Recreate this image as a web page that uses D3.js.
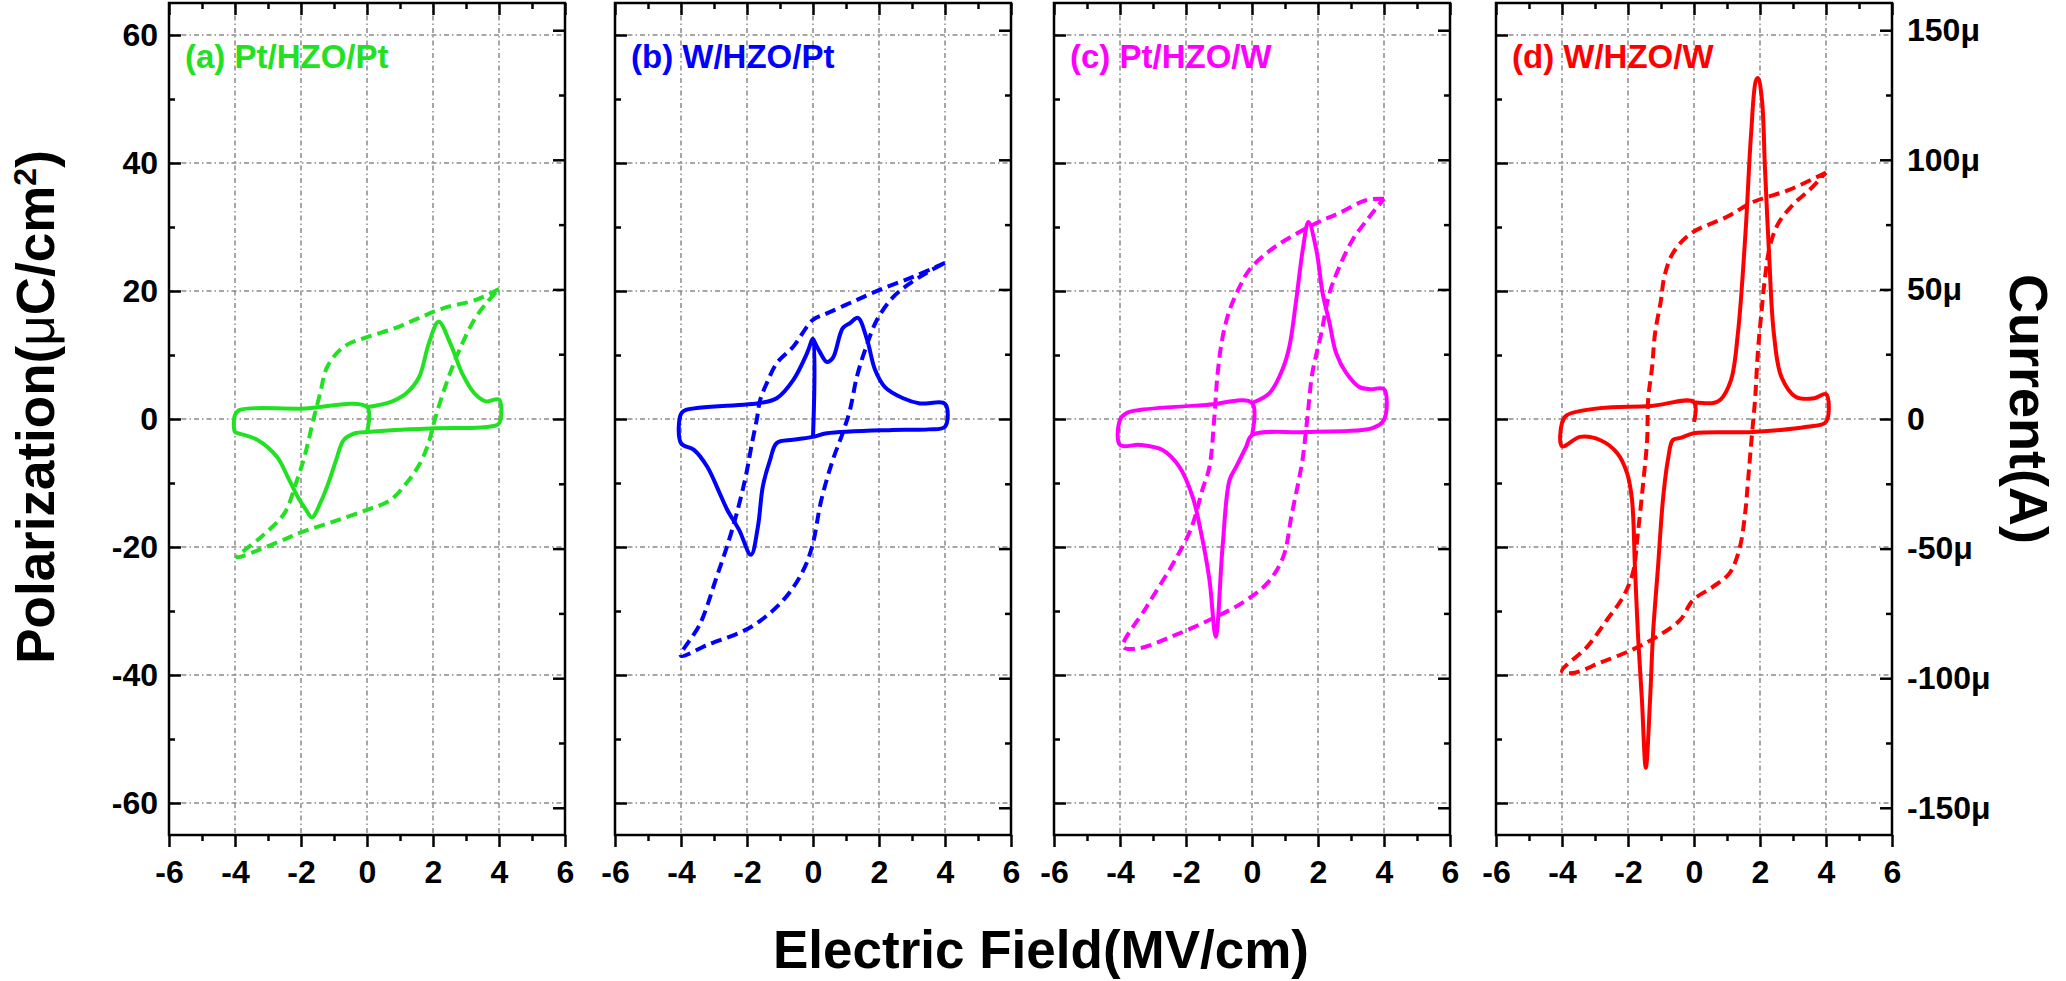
<!DOCTYPE html>
<html>
<head>
<meta charset="utf-8">
<script src="https://cdn.jsdelivr.net/npm/d3@7"></script>
<style>
  html, body { margin: 0; padding: 0; background: #fff; }
  svg { display: block; }
  text { font-family: "Liberation Sans", Arial, sans-serif; font-weight: bold; fill: #000; }
  .tick text { font-size: 32px; }
</style>
</head>
<body>
<div id="chart"></div>
<script>
// ---- values ----
const panelNames = ["(a) Pt/HZO/Pt", "(b) W/HZO/Pt", "(c) Pt/HZO/W", "(d) W/HZO/W"];
const panelColors = ["#22e122", "#0000ff", "#ff00ff", "#ff0000"];

const xTicks = [-6, -4, -2, 0, 2, 4, 6];
const xTickLabels = ["-6", "-4", "-2", "0", "2", "4", "6"];
const xMinor = [-5, -3, -1, 1, 3, 5];
const pTicks = [-60, -40, -20, 0, 20, 40, 60];
const pTickLabels = ["-60", "-40", "-20", "0", "20", "40", "60"];
const pMinor = [-50, -30, -10, 10, 30, 50];
const iTicks = [-150, -100, -50, 0, 50, 100, 150];
const iTickLabels = ["-150μ", "-100μ", "-50μ", "0", "50μ", "100μ", "150μ"];
const iMinor = [-125, -75, -25, 25, 75, 125];

// P-E loops (dashed): [E in MV/cm, P in uC/cm2]
const loopA = [[4,20.3],[3.3,18.6],[2.3,17.3],[1.5,15.6],[0.85,14.2],[0,12.8],[-0.7,11.3],[-1.2,8.2],[-1.42,4],[-1.62,0],[-1.9,-6],[-2.15,-10],[-2.5,-14.7],[-3.2,-18.4],[-3.94,-21.6],
  [-3.45,-20.8],[-2.5,-18.8],[-2,-17.7],[-1,-16],[0,-14.2],[0.7,-12.7],[1.2,-10],[1.6,-7],[1.85,-4],[2.06,0],[2.4,5.5],[2.8,10.8],[3.25,15.5],[3.6,18],[4,20.3]];
const loopB = [[4,24.4],[3.03,22.2],[2.03,20.2],[1.2,18.3],[0.42,16.5],[0,15.5],[-0.6,11.3],[-1.1,8.7],[-1.4,5.6],[-1.6,3],[-1.7,0],[-1.85,-3.8],[-2.06,-9.5],[-2.45,-17.3],[-2.94,-25],[-3.42,-32],[-4,-37],
  [-3.2,-35.3],[-1.88,-32.5],[-0.9,-28.3],[-0.33,-24],[-0.03,-20],[0.25,-12.7],[0.6,-6.4],[0.9,-2.2],[1.12,1.4],[1.33,6.6],[1.58,10.8],[1.94,15.5],[2.42,19],[2.94,21.2],[3.5,23],[4,24.4]];
const loopC = [[4,34.4],[3.46,34.2],[2.65,32.2],[1.95,30.6],[1.03,28],[0.44,25.9],[-0.08,23.3],[-0.38,20.6],[-0.68,17],[-0.89,12.8],[-1.04,7.2],[-1.14,0.3],[-1.29,-7.5],[-1.5,-11],[-1.86,-17.3],[-2.44,-23],[-3.2,-29.4],[-3.9,-35.6],
  [-3.4,-35.8],[-2.44,-34],[-1.29,-31.4],[-0.32,-28.8],[0.47,-25.6],[0.95,-21.5],[1.2,-15],[1.4,-10],[1.53,-6.4],[1.68,0.3],[1.83,7.2],[2.1,13.4],[2.35,19.7],[2.65,23.8],[3.05,28],[3.56,31.6],[4,34.4]];
const loopD = [[4,38.5],[2.88,35.8],[1.79,33.9],[1,31.6],[-0.09,29],[-0.64,25.9],[-0.9,22.2],[-1,18.6],[-1.18,13.4],[-1.27,8.1],[-1.39,3],[-1.42,-3.3],[-1.54,-10],[-1.7,-17.8],[-1.85,-24],[-2.15,-27.8],[-2.64,-31.4],[-3.24,-35.6],[-4,-39.4],
  [-3.67,-39.7],[-2.85,-38.1],[-1.85,-36],[-1.12,-34],[-0.42,-31.4],[-0.03,-28.3],[0.58,-26.2],[1.09,-24],[1.39,-20],[1.55,-14.7],[1.64,-9.5],[1.76,-2.2],[1.85,3],[1.94,10.8],[2.05,17],[2.15,22],[2.3,27],[2.55,30.5],[3,33.5],[3.5,35.8],[4,38.5]];

// I-E curves (solid): [E in MV/cm, I in uA]
const currA = [[0,4.6],[0.37,5.4],[0.8,7],[1.2,10],[1.58,16.2],[1.87,29],[2.17,37.5],[2.53,29],[2.88,17.7],[3.25,10],[3.6,6.8],[4,7.5],[4,-1.7],[3.7,-3],[2,-3.6],[0.85,-4.2],[0,-5],[-0.36,-5.5],[-0.7,-8],[-0.94,-16],[-1.15,-24],[-1.4,-32],[-1.67,-38],
  [-1.85,-35],[-2.1,-30],[-2.4,-22.4],[-2.73,-14.6],[-3.33,-8],[-3.9,-5.5],[-4,-5],[-4,1.5],[-3.85,3.5],[-2,4],[0,4.6],[0,-5]];
const currB = [[0,31],[0.2,26],[0.42,22],[0.6,23.5],[0.9,35],[1.12,37],[1.36,39],[1.64,30.5],[1.88,19],[2.18,12.3],[2.73,8],[3.24,6],[4,5.8],[4,-3],[3.5,-4],[2.42,-4.2],[0.42,-5.5],[0,-6.9],[-0.6,-8],[-1.1,-9.3],[-1.3,-15.8],[-1.52,-26],[-1.67,-41.6],[-1.88,-52.4],
  [-2.24,-42.8],[-2.6,-35],[-2.85,-28],[-3.2,-18.5],[-3.6,-12],[-4,-9.3],[-4,2],[-3.85,3.5],[-1.6,6.2],[-1.1,8],[-0.6,15],[-0.18,25.4],[0,31],[0,-6.9]];
const currC = [[0,6.2],[0.53,10],[0.92,19],[1.13,27.8],[1.34,45.9],[1.55,66.3],[1.71,76],[1.95,65.2],[2.14,48.6],[2.35,37],[2.55,25.4],[2.86,17.7],[3.26,12.3],[3.6,11.5],[4,11.5],[4,-0.4],[3.65,-3.5],[1.64,-5],[0,-6.2],[-0.18,-10.8],[-0.48,-18.5],[-0.68,-23.5],[-0.89,-49],[-1.1,-84],
  [-1.29,-62],[-1.56,-42.8],[-1.8,-30],[-2.2,-18.5],[-2.71,-12],[-3.4,-10],[-4,-10],[-4,-0.4],[-3.8,2.3],[-3.4,3.5],[-1.38,5.4],[0,6.2],[0,-6.2]];
const currD = [[0,6.5],[0.58,6.2],[0.79,7.3],[1.12,15],[1.33,33],[1.56,71.7],[1.73,110],[1.88,130.7],[1.94,131.5],[2.06,123],[2.15,97],[2.27,65],[2.42,33],[2.65,16.2],[3.09,8.5],[3.64,8],[4,9.6],[4,-1.1],[3.42,-3],[1.79,-5],[0,-5.5],[-0.41,-7.3],[-0.64,-8.1],[-0.79,-15.8],[-0.94,-31],[-1.09,-57],[-1.24,-82.5],[-1.33,-108],[-1.46,-134.6],
  [-1.58,-108],[-1.7,-82.5],[-1.79,-57],[-1.88,-31],[-2.03,-20.8],[-2.33,-13.1],[-2.85,-8.1],[-3.45,-6.9],[-4,-10.5],[-4,-1.5],[-3.85,1.5],[-2.85,4.2],[-1.33,5],[0,6.5],[0,-1.1]];

const loops = [loopA, loopB, loopC, loopD];
const currents = [currA, currB, currC, currD];

// ---- layout ----
const W = 2066, H = 981;
const plotTop = 3, plotBottom = 835, plotW = 396;
const plotLefts = [169, 615, 1054, 1496];

const svg = d3.select("#chart").append("svg")
  .attr("width", W).attr("height", H);

const x = d3.scaleLinear().domain([-6, 6]).range([0, plotW]);
const yP = d3.scaleLinear().domain([-65, 65]).range([plotBottom, plotTop]);
const yI = d3.scaleLinear().domain([-160.5, 160.5]).range([plotBottom, plotTop]);

const lineP = d3.line().x(d => x(d[0])).y(d => yP(d[1])).curve(d3.curveCatmullRom.alpha(0.5));
const lineI = d3.line().x(d => x(d[0])).y(d => yI(d[1])).curve(d3.curveCatmullRom.alpha(0.5));

function styleAxis(g) {
  g.select(".domain").remove();
  g.selectAll("line").attr("stroke", "#000").attr("stroke-width", 2.5);
}

panelNames.forEach((name, k) => {
  const g = svg.append("g").attr("transform", `translate(${plotLefts[k]},0)`);
  const color = panelColors[k];

  // grid
  g.append("g").selectAll("line")
    .data(xTicks.slice(1, -1))
    .join("line")
      .attr("x1", d => x(d)).attr("x2", d => x(d))
      .attr("y1", plotTop).attr("y2", plotBottom)
      .attr("stroke", "#8a8a8a").attr("stroke-width", 1.5)
      .attr("stroke-dasharray", "5,3,1.5,3");
  g.append("g").selectAll("line")
    .data(pTicks)
    .join("line")
      .attr("x1", 0).attr("x2", plotW)
      .attr("y1", d => yP(d)).attr("y2", d => yP(d))
      .attr("stroke", "#8a8a8a").attr("stroke-width", 1.5)
      .attr("stroke-dasharray", "5,3,1.5,3");

  // polarization loop (dashed) and current (solid)
  g.append("path")
    .datum(loops[k])
    .attr("d", lineP)
    .attr("fill", "none")
    .attr("stroke", color)
    .attr("stroke-width", 4)
    .attr("stroke-dasharray", "11,6");
  g.append("path")
    .datum(currents[k])
    .attr("d", lineI)
    .attr("fill", "none")
    .attr("stroke", color)
    .attr("stroke-width", 4)
    .attr("stroke-linejoin", "round");

  // axes
  g.append("g").attr("transform", `translate(0,${plotBottom})`)
    .call(d3.axisBottom(x).tickValues(xTicks).tickSize(12).tickPadding(13)
      .tickFormat((d, i) => xTickLabels[i]))
    .call(styleAxis);
  g.append("g").attr("transform", `translate(0,${plotBottom})`)
    .call(d3.axisBottom(x).tickValues(xMinor).tickSize(6).tickFormat(""))
    .call(styleAxis);
  g.append("g").attr("transform", `translate(0,${plotTop})`)
    .call(d3.axisTop(x).tickValues(xTicks).tickSize(-12).tickFormat(""))
    .call(styleAxis);
  g.append("g").attr("transform", `translate(0,${plotTop})`)
    .call(d3.axisTop(x).tickValues(xMinor).tickSize(-6).tickFormat(""))
    .call(styleAxis);

  g.append("g")
    .call(d3.axisLeft(yP).tickValues(pTicks).tickSize(-12).tickPadding(11)
      .tickFormat((d, i) => k === 0 ? pTickLabels[i] : ""))
    .call(styleAxis);
  g.append("g")
    .call(d3.axisLeft(yP).tickValues(pMinor).tickSize(-6).tickFormat(""))
    .call(styleAxis);

  g.append("g").attr("transform", `translate(${plotW},0)`)
    .call(d3.axisRight(yI).tickValues(iTicks).tickSize(-12).tickPadding(15)
      .tickFormat((d, i) => k === 3 ? iTickLabels[i] : ""))
    .call(styleAxis);
  g.append("g").attr("transform", `translate(${plotW},0)`)
    .call(d3.axisRight(yI).tickValues(iMinor).tickSize(-6).tickFormat(""))
    .call(styleAxis);

  // frame
  g.append("rect")
    .attr("x", 0).attr("y", plotTop)
    .attr("width", plotW).attr("height", plotBottom - plotTop)
    .attr("fill", "none").attr("stroke", "#000").attr("stroke-width", 2.5);

  // panel label
  g.append("text")
    .attr("x", 16).attr("y", 68)
    .style("font-size", "33px")
    .style("fill", color)
    .text(name);
});

// axis titles
svg.append("text")
  .attr("x", 1041).attr("y", 968)
  .attr("text-anchor", "middle")
  .style("font-size", "53px")
  .text("Electric Field(MV/cm)");

const yt = svg.append("text")
  .attr("transform", "translate(54,407) rotate(-90)")
  .attr("text-anchor", "middle")
  .style("font-size", "53px");
yt.append("tspan").text("Polarization(");
yt.append("tspan").style("font-weight", "normal").text("μ");
yt.append("tspan").text("C/cm");
yt.append("tspan").attr("dy", -18).style("font-size", "32px").text("2");
yt.append("tspan").attr("dy", 18).text(")");

svg.append("text")
  .attr("transform", "translate(2010,409) rotate(90)")
  .attr("text-anchor", "middle")
  .style("font-size", "54px")
  .text("Current(A)");
</script>
</body>
</html>
